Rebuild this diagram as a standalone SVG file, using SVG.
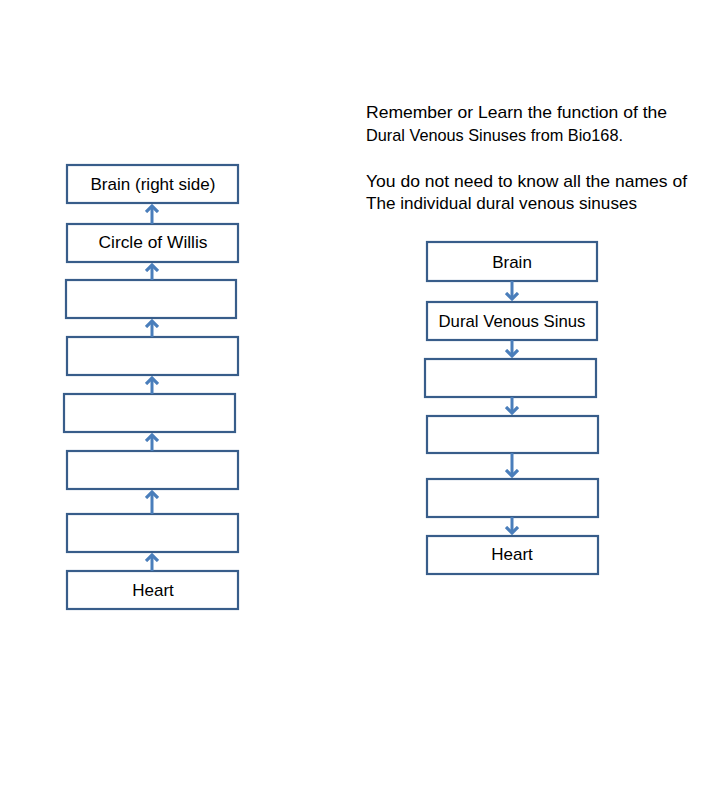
<svg xmlns="http://www.w3.org/2000/svg" width="705" height="805" viewBox="0 0 705 805">
<style>
.box{fill:#ffffff;stroke:#385d8a;stroke-width:2.2}
.lbl{font-family:"Liberation Sans",Arial,sans-serif;font-size:17px;fill:#000;text-anchor:middle}
.note{font-family:"Liberation Sans",Arial,sans-serif;font-size:17px;fill:#000}
.arr{fill:none;stroke:#4a7ebb;stroke-width:3}
</style>
<defs>
<marker id="ah" markerWidth="14" markerHeight="14" refX="7" refY="7" orient="auto" markerUnits="userSpaceOnUse">
<path d="M1,1 L7,7 L1,13" fill="none" stroke="#4a7ebb" stroke-width="3.2"/>
</marker>
</defs>
<rect width="705" height="805" fill="#ffffff"/>
<g id="note">
<text class="note" x="366" y="118" textLength="301" lengthAdjust="spacingAndGlyphs">Remember or Learn the function of the</text>
<text class="note" x="366" y="141" textLength="257" lengthAdjust="spacingAndGlyphs">Dural Venous Sinuses from Bio168.</text>
<text class="note" x="366" y="187" textLength="321" lengthAdjust="spacingAndGlyphs">You do not need to know all the names of</text>
<text class="note" x="366" y="209" textLength="271" lengthAdjust="spacingAndGlyphs">The individual dural venous sinuses</text>
</g>
<g id="L1"><rect class="box" x="67" y="165" width="171" height="38"/><text class="lbl" x="153" y="190" textLength="125" lengthAdjust="spacingAndGlyphs">Brain (right side)</text></g>
<g id="L2"><rect class="box" x="67" y="224" width="171" height="38"/><text class="lbl" x="153" y="248" textLength="109" lengthAdjust="spacingAndGlyphs">Circle of Willis</text></g>
<g id="L3"><rect class="box" x="66" y="280" width="170" height="38"/></g>
<g id="L4"><rect class="box" x="67" y="337" width="171" height="38"/></g>
<g id="L5"><rect class="box" x="64" y="394" width="171" height="38"/></g>
<g id="L6"><rect class="box" x="67" y="451" width="171" height="38"/></g>
<g id="L7"><rect class="box" x="67" y="514" width="171" height="38"/></g>
<g id="L8"><rect class="box" x="67" y="571" width="171" height="38"/><text class="lbl" x="153" y="596">Heart</text></g>
<g id="R1"><rect class="box" x="427" y="242" width="170" height="39"/><text class="lbl" x="512" y="268">Brain</text></g>
<g id="R2"><rect class="box" x="427" y="302" width="170" height="38"/><text class="lbl" x="512" y="327" textLength="147" lengthAdjust="spacingAndGlyphs">Dural Venous Sinus</text></g>
<g id="R3"><rect class="box" x="425" y="359" width="171" height="38"/></g>
<g id="R4"><rect class="box" x="427" y="416" width="171" height="37"/></g>
<g id="R5"><rect class="box" x="427" y="479" width="171" height="38"/></g>
<g id="R6"><rect class="box" x="427" y="536" width="171" height="38"/><text class="lbl" x="512" y="560">Heart</text></g>
<g id="connectors">
<path class="arr" marker-end="url(#ah)" d="M152,224 L152,206"/>
<path class="arr" marker-end="url(#ah)" d="M152,280 L152,265"/>
<path class="arr" marker-end="url(#ah)" d="M152,337 L152,321"/>
<path class="arr" marker-end="url(#ah)" d="M152,394 L152,378"/>
<path class="arr" marker-end="url(#ah)" d="M152,451 L152,435"/>
<path class="arr" marker-end="url(#ah)" d="M152,514 L152,492"/>
<path class="arr" marker-end="url(#ah)" d="M152,571 L152,555"/>
<path class="arr" marker-end="url(#ah)" d="M512,281 L512,299"/>
<path class="arr" marker-end="url(#ah)" d="M512,340 L512,356"/>
<path class="arr" marker-end="url(#ah)" d="M512,397 L512,413"/>
<path class="arr" marker-end="url(#ah)" d="M512,453 L512,476"/>
<path class="arr" marker-end="url(#ah)" d="M512,517 L512,533"/>
</g>
</svg>
